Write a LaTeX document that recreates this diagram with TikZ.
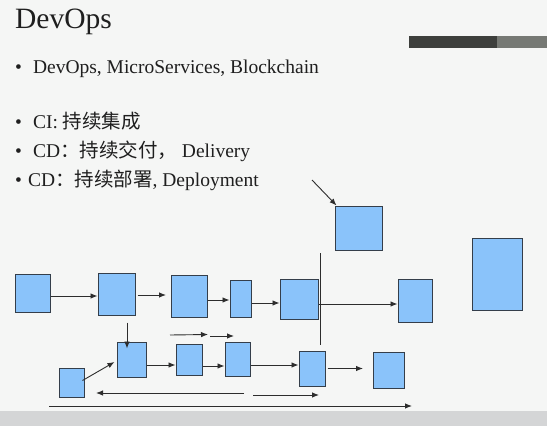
\documentclass[tikz,border=0pt]{standalone}
\usepackage{fontspec}
\setmainfont{Liberation Serif}
\newfontfamily\cjk{Noto Sans CJK SC}
\usepackage{tikz}
\usetikzlibrary{arrows.meta}
\definecolor{boxblue}{RGB}{138,195,250}
\definecolor{boxline}{RGB}{52,62,74}
\definecolor{bgpaper}{RGB}{245,246,245}
\definecolor{barDark}{RGB}{61,63,60}
\definecolor{barLight}{RGB}{118,121,116}
\definecolor{bandgray}{RGB}{212,213,214}
\definecolor{inkgray}{RGB}{45,45,45}

\begin{document}
\begin{tikzpicture}[x=1pt, y=-1pt, >={Latex[length=7pt,width=5.5pt]},
    blk/.style={draw=boxline, fill=boxblue, line width=1pt, inner sep=0pt},
    flow/.style={->, draw=inkgray, line width=0.9pt},
    txt/.style={anchor=base west, inner sep=0pt, text=black!88, font=\fontsize{19.5}{23}\selectfont}]

        % Background
        \fill[bgpaper] (0,0) rectangle (547,426);
        \useasboundingbox (0,0) rectangle (547,426);
        \fill[bandgray] (0,411) rectangle (547,426);
        \fill[barDark] (409,36) rectangle (497,48);
        \fill[barLight] (497,36) rectangle (547,48);

        % Text
        \node[txt, font=\fontsize{29.5}{32}\selectfont] (title) at (15,28) {DevOps};
        \node[txt] (l1) at (15,73) {\textbullet\hspace{11pt}DevOps, MicroServices, Blockchain};
        \node[txt] (l2) at (15,128) {\textbullet\hspace{11pt}CI: {\cjk 持续集成}};
        \node[txt] (l3) at (15,157) {\textbullet\hspace{11pt}CD{\cjk ：持续交付，} Delivery};
        \node[txt] (l4) at (15,186) {\textbullet\hspace{6pt}CD{\cjk ：持续部署}, Deployment};

        % Nodes
        \node[blk, minimum width=35pt, minimum height=38pt] (A) at (32.5,293) {};
        \node[blk, minimum width=37pt, minimum height=42pt] (B) at (116.5,294) {};
        \node[blk, minimum width=36pt, minimum height=42pt] (C) at (189,296) {};
        \node[blk, minimum width=21pt, minimum height=37pt] (D) at (240.5,298.5) {};
        \node[blk, minimum width=38pt, minimum height=40pt] (E) at (299,299) {};
        \node[blk, minimum width=34pt, minimum height=43pt] (F) at (415,300.5) {};
        \node[blk, minimum width=47pt, minimum height=44pt] (T) at (358.5,228) {};
        \node[blk, minimum width=50pt, minimum height=72pt] (R) at (497,274) {};
        \node[blk, minimum width=25pt, minimum height=29pt] (G) at (71.5,382.5) {};
        \node[blk, minimum width=29pt, minimum height=35pt] (H) at (131.5,359.5) {};
        \node[blk, minimum width=26pt, minimum height=31pt] (I) at (189,359.5) {};
        \node[blk, minimum width=25pt, minimum height=34pt] (J) at (237.5,359) {};
        \node[blk, minimum width=26pt, minimum height=35pt] (K) at (312,368.5) {};
        \node[blk, minimum width=31pt, minimum height=36pt] (L) at (388.5,370) {};

        % Free ends
        \coordinate (bc) at (166,295);
        \coordinate (kc) at (363,368.5);
        \coordinate (tc) at (312,180);
        \coordinate (s1a) at (170,335);
        \coordinate (s1b) at (208,334.5);
        \coordinate (s2a) at (210,336);
        \coordinate (s2b) at (234,336);
        \coordinate (ba) at (244,393);
        \coordinate (bb) at (96,393);
        \coordinate (ra) at (253,395);
        \coordinate (rb) at (319,395);
        \coordinate (la) at (49,406);
        \coordinate (lb) at (412,406);
        \coordinate (v1) at (320.5,253);
        \coordinate (v2) at (320.5,345);

        % Edges
        \draw[flow] ([yshift=-3pt]A.east) -- ([yshift=-3pt]A.east -| B.west);
        \draw[flow] ([xshift=2pt,yshift=-1pt]B.east) -- (bc);
        \draw[flow] ([yshift=-4pt]C.east) -- ([yshift=-4pt]C.east -| D.west);
        \draw[flow] ([yshift=-4.5pt]D.east) -- ([yshift=-4.5pt]D.east -| E.west);
        \draw[flow] ([yshift=-5pt]E.east) -- ([yshift=-5pt]E.east -| F.west);
        \draw[flow] ([xshift=10.5pt,yshift=-7pt]B.south) -- ([xshift=10.5pt,yshift=-7pt]B.south |- H.north);
        \draw[flow] ([xshift=-2pt,yshift=2pt]G.east) -- ([xshift=-2pt,yshift=-2.5pt]H.west);
        \draw[flow] ([yshift=-5.5pt]H.east) -- ([yshift=-5.5pt]H.east -| I.west);
        \draw[flow] ([yshift=-6.5pt]I.east) -- ([yshift=-6.5pt]I.east -| J.west);
        \draw[flow] ([yshift=-6pt]J.east) -- ([yshift=-6pt]J.east -| K.west);
        \draw[flow] ([xshift=2pt]K.east) -- (kc);
        \draw[flow] (tc) -- ([xshift=2pt]T.north west);
        \draw[flow] (s1a) -- (s1b);
        \draw[flow] (s2a) -- (s2b);
        \draw[flow] (ba) -- (bb);
        \draw[flow] (ra) -- (rb);
        \draw[flow] (la) -- (lb);
        \draw[draw=inkgray, line width=1.2pt] (v1) -- (v2);

    \end{tikzpicture}
\end{document}
